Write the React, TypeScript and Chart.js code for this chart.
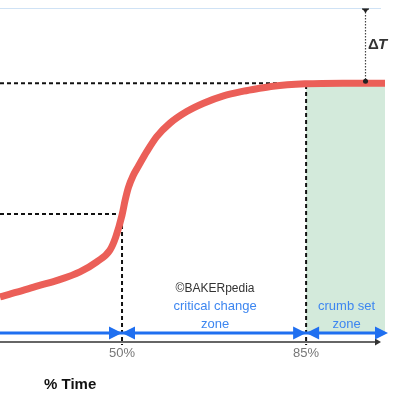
import React, { useEffect, useRef } from "react";
import { Chart, registerables } from "chart.js";

Chart.register(...registerables);

// % time (x) and temperature (arbitrary units, y)
const timePct = [26.8, 30, 34, 38, 42, 45.2, 47.7, 48.8, 50, 50.6, 51.2, 52.1, 53.1, 54.7, 56.6, 59.1, 62.3, 65.5, 69.3, 73.1, 75.9, 78.7, 84.8, 92, 100];
const temperature = [13.5, 14.9, 16.8, 18.6, 21, 24, 27.5, 31.4, 38, 42.5, 46.2, 49.8, 52.6, 57, 61.5, 65.5, 69, 71.5, 73.7, 75.1, 75.9, 76.6, 77.3, 77.5, 77.5];

const markerTimes = [50, 85];
const markerTemps = [38.3, 77.5];
const tickLabels = ["50%", "85%"];
const maxTemp = 100; // top reference line (ΔT above plateau)
const arrowLevel = 2.7;
const zoneLabels = [["critical change", "zone"], ["crumb set", "zone"]];

const FONT = "'Liberation Sans', Arial, sans-serif";

const overlay = {
  id: "overlay",
  beforeDatasetsDraw(chart: any) {
    const { ctx, scales } = chart;
    const x = scales.x, y = scales.y;
    const ca = chart.chartArea;
    ctx.save();
    // green crumb set zone
    ctx.fillStyle = "#d3eadb";
    const gx0 = x.getPixelForValue(markerTimes[1]);
    const gx1 = x.getPixelForValue(100);
    const gy0 = y.getPixelForValue(markerTemps[1]);
    const gy1 = y.getPixelForValue(arrowLevel);
    ctx.fillRect(gx0, gy0, gx1 - gx0, gy1 - gy0);

    // top light blue reference line
    ctx.strokeStyle = "#cfe2f5";
    ctx.lineWidth = 1;
    ctx.beginPath();
    const ty = Math.round(y.getPixelForValue(maxTemp)) + 0.5;
    ctx.moveTo(ca.left, ty);
    ctx.lineTo(x.getPixelForValue(100) - 4, ty);
    ctx.stroke();

    // dashed guide lines
    ctx.strokeStyle = "#111";
    ctx.lineWidth = 2;
    ctx.setLineDash([4, 3]);
    const axisY = y.getPixelForValue(0);
    markerTimes.forEach((t, i) => {
      const px = x.getPixelForValue(t);
      const py = y.getPixelForValue(markerTemps[i]);
      ctx.beginPath();
      ctx.moveTo(ca.left, py);
      ctx.lineTo(px, py);
      ctx.lineTo(px, axisY + 3);
      ctx.stroke();
    });
    ctx.setLineDash([]);
    ctx.restore();
  },
  afterDatasetsDraw(chart: any) {
    const { ctx, scales } = chart;
    const x = scales.x, y = scales.y;
    const ca = chart.chartArea;
    ctx.save();
    const axisY = y.getPixelForValue(0);
    const endX = x.getPixelForValue(100);

    // x axis line with arrow
    ctx.strokeStyle = "#333";
    ctx.fillStyle = "#333";
    ctx.lineWidth = 1.5;
    ctx.beginPath();
    ctx.moveTo(ca.left, axisY);
    ctx.lineTo(endX - 8, axisY);
    ctx.stroke();
    ctx.beginPath();
    ctx.moveTo(endX - 4, axisY);
    ctx.lineTo(endX - 10, axisY - 3.5);
    ctx.lineTo(endX - 10, axisY + 3.5);
    ctx.closePath();
    ctx.fill();

    // blue zone arrows
    const blue = "#1f6ff0";
    const ay = y.getPixelForValue(arrowLevel);
    const head = (tip: number, dir: number) => {
      ctx.beginPath();
      ctx.moveTo(tip, ay);
      ctx.lineTo(tip - dir * 13, ay - 6.5);
      ctx.lineTo(tip - dir * 13, ay + 6.5);
      ctx.closePath();
      ctx.fill();
    };
    ctx.strokeStyle = blue;
    ctx.fillStyle = blue;
    ctx.lineWidth = 3;
    const p50 = x.getPixelForValue(markerTimes[0]);
    const p85 = x.getPixelForValue(markerTimes[1]);
    const tipEnd = endX + 3;
    ctx.beginPath();
    ctx.moveTo(ca.left, ay);
    ctx.lineTo(tipEnd - 4, ay);
    ctx.stroke();
    head(p50, 1);
    head(p50, -1);
    head(p85, 1);
    head(p85, -1);
    head(tipEnd, 1);

    // tick labels
    ctx.fillStyle = "#777";
    ctx.font = `13px ${FONT}`;
    ctx.textAlign = "center";
    ctx.textBaseline = "middle";
    markerTimes.forEach((t, i) => {
      ctx.fillText(tickLabels[i], x.getPixelForValue(t), axisY + 11);
    });

    // zone labels
    ctx.fillStyle = "#3d86f0";
    ctx.font = `13px ${FONT}`;
    const c1 = (p50 + p85) / 2 + 1;
    const c2 = (p85 + endX) / 2 + 1;
    [c1, c2].forEach((cx, i) => {
      ctx.fillText(zoneLabels[i][0], cx, axisY - 36);
      ctx.fillText(zoneLabels[i][1], cx, axisY - 18);
    });

    // watermark
    ctx.fillStyle = "#333";
    ctx.font = `12px ${FONT}`;
    ctx.fillText("\u00A9BAKERpedia", c1, axisY - 53);

    // axis title
    ctx.fillStyle = "#111";
    ctx.font = `bold 15px ${FONT}`;
    ctx.textAlign = "left";
    ctx.fillText("% Time", ca.left + 44, axisY + 43);

    // ΔT dimension
    const dx = x.getPixelForValue(96.2);
    const topY = y.getPixelForValue(maxTemp) + 1;
    const botY = y.getPixelForValue(markerTemps[1]) - 1;
    ctx.strokeStyle = "#444";
    ctx.lineWidth = 1.2;
    ctx.setLineDash([1.5, 1.5]);
    ctx.beginPath();
    ctx.moveTo(Math.round(dx) + 0.5, topY);
    ctx.lineTo(Math.round(dx) + 0.5, botY);
    ctx.stroke();
    ctx.setLineDash([]);
    ctx.lineWidth = 1.5;
    ctx.beginPath();
    ctx.moveTo(dx - 3, topY);
    ctx.lineTo(dx + 4, topY);
    ctx.stroke();
    ctx.fillStyle = "#222";
    ctx.beginPath();
    ctx.moveTo(dx + 0.5, topY + 4);
    ctx.lineTo(dx - 2.5, topY);
    ctx.lineTo(dx + 3.5, topY);
    ctx.closePath();
    ctx.fill();
    ctx.beginPath();
    ctx.arc(dx + 0.5, botY - 1, 2.5, 0, Math.PI * 2);
    ctx.fill();
    ctx.fillStyle = "#333";
    ctx.font = `bold 15px ${FONT}`;
    ctx.textAlign = "left";
    const my = (topY + botY) / 2 - 1;
    ctx.fillText("\u0394", dx + 3, my);
    ctx.font = `italic bold 15px ${FONT}`;
    ctx.fillText("T", dx + 13, my);
    ctx.restore();
  },
};

export default function App() {
  const ref = useRef<HTMLCanvasElement>(null);
  useEffect(() => {
    if (!ref.current) return;
    const chart = new Chart(ref.current, {
      type: "line",
      data: {
        datasets: [
          {
            data: timePct.map((t, i) => ({ x: t, y: temperature[i] })),
            borderColor: "#eb5f58",
            borderWidth: 7,
            pointRadius: 0,
            fill: false,
            cubicInterpolationMode: "monotone",
            clip: false as any,
          },
        ],
      },
      options: {
        responsive: false,
        animation: false,
        layout: { padding: { left: 0, right: 15, top: 8, bottom: 58 } },
        plugins: { legend: { display: false }, tooltip: { enabled: false } },
        scales: {
          x: { type: "linear", min: 26.8, max: 100, display: false },
          y: { type: "linear", min: 0, max: maxTemp, display: false },
        },
      },
      plugins: [overlay],
    });
    return () => chart.destroy();
  }, []);
  return (
    <div style={{ position: "absolute", left: 0, top: 0, width: 400, height: 400, background: "#fff" }}>
      <canvas ref={ref} width={400} height={400} />
    </div>
  );
}
